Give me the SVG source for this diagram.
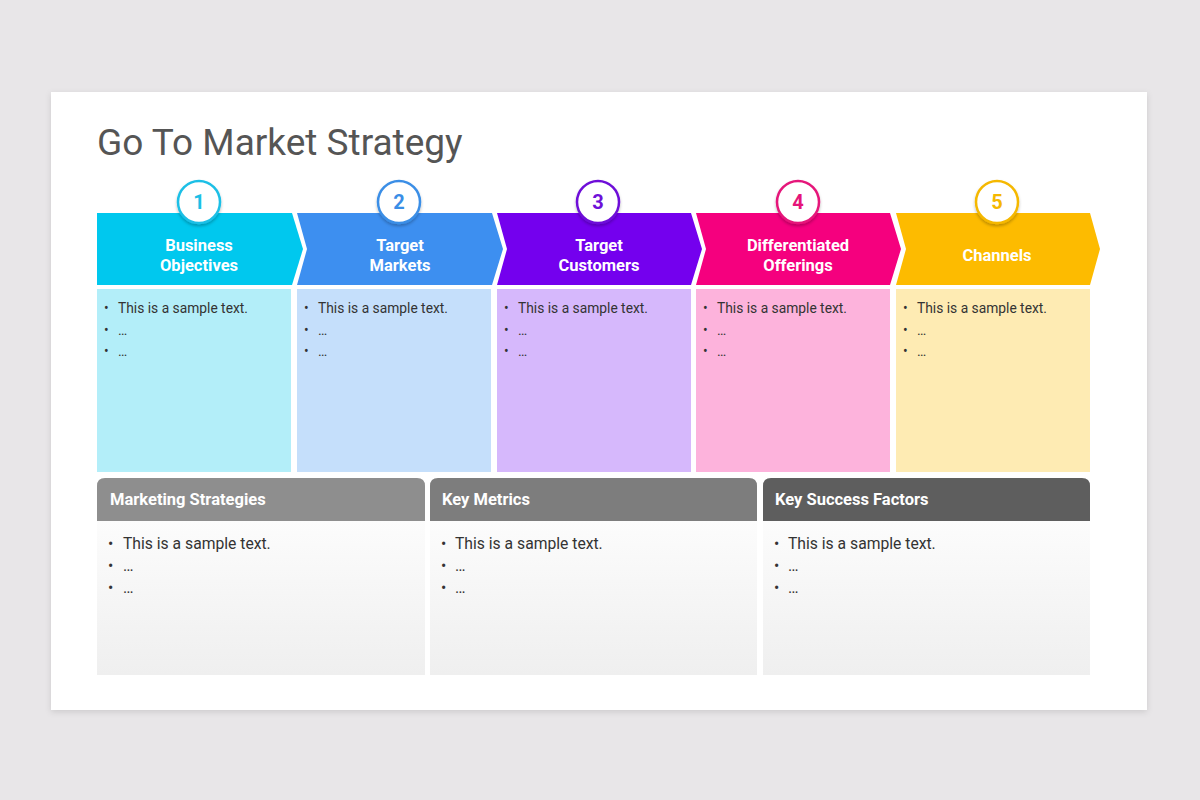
<svg xmlns="http://www.w3.org/2000/svg" width="1200" height="800" viewBox="0 0 1200 800">
<defs>
<style>
.title{font-family:Roboto,"Liberation Sans",sans-serif;font-size:37px;fill:#555555}
.chev{font-family:Roboto,"Liberation Sans",sans-serif;font-size:16.5px;font-weight:bold;fill:#ffffff;text-anchor:middle}
.num{font-family:Roboto,"Liberation Sans",sans-serif;font-size:20px;font-weight:bold;text-anchor:middle}
.bt{font-family:Roboto,"Liberation Sans",sans-serif;font-size:13.8px;fill:#333333}
.bb{font-family:Roboto,"Liberation Sans",sans-serif;font-size:15.7px;fill:#333333}
.hd{font-family:Roboto,"Liberation Sans",sans-serif;font-size:16.5px;font-weight:bold;fill:#ffffff}
.circ{fill:#ffffff;stroke-width:2.5}
</style>
<filter id="sh" x="-5%" y="-5%" width="110%" height="115%">
<feDropShadow dx="0" dy="2" stdDeviation="3" flood-color="#000" flood-opacity="0.12"/>
</filter>
<filter id="csh" x="-50%" y="-50%" width="200%" height="200%">
<feDropShadow dx="0" dy="2" stdDeviation="1.5" flood-color="#000" flood-opacity="0.25"/>
</filter>
<linearGradient id="pg" x1="0" y1="0" x2="0" y2="1">
<stop offset="0" stop-color="#fcfcfc"/>
<stop offset="1" stop-color="#efefef"/>
</linearGradient>
</defs>
<rect x="0" y="0" width="1200" height="800" fill="#e8e6e8"/>
<rect x="51" y="92" width="1096" height="618" fill="#ffffff" filter="url(#sh)"/>
<text class="title" x="97" y="155">Go To Market Strategy</text>

<g id="step1">
<polygon points="97,213 292,213 303,249 292,285 97,285" fill="#00c8ee"/>
<rect x="97" y="289" width="194" height="183" fill="#b3eef9"/>
<circle class="circ" cx="199" cy="202" r="21" stroke="#1bbfe6" filter="url(#csh)"/>
<text class="num" x="199" y="209" fill="#1bbfe6">1</text>
<text class="chev" x="199" y="251">Business</text>
<text class="chev" x="199" y="271">Objectives</text>
<text class="bt" x="104" y="313">•</text><text class="bt" x="118" y="313">This is a sample text.</text>
<text class="bt" x="104" y="335">•</text><text class="bt" x="118" y="335" font-size="9">…</text>
<text class="bt" x="104" y="356">•</text><text class="bt" x="118" y="356" font-size="9">…</text>
</g>

<g id="step2">
<polygon points="297,213 492,213 503,249 492,285 297,285 307,249" fill="#3d8ff0"/>
<rect x="297" y="289" width="194" height="183" fill="#c5dffb"/>
<circle class="circ" cx="399" cy="202" r="21" stroke="#3a8ee6" filter="url(#csh)"/>
<text class="num" x="399" y="209" fill="#3a8ee6">2</text>
<text class="chev" x="400" y="251">Target</text>
<text class="chev" x="400" y="271">Markets</text>
<text class="bt" x="304" y="313">•</text><text class="bt" x="318" y="313">This is a sample text.</text>
<text class="bt" x="304" y="335">•</text><text class="bt" x="318" y="335" font-size="9">…</text>
<text class="bt" x="304" y="356">•</text><text class="bt" x="318" y="356" font-size="9">…</text>
</g>

<g id="step3">
<polygon points="497,213 691,213 702,249 691,285 497,285 507,249" fill="#7400ee"/>
<rect x="497" y="289" width="194" height="183" fill="#d6b8fc"/>
<circle class="circ" cx="598" cy="202" r="21" stroke="#6e10d8" filter="url(#csh)"/>
<text class="num" x="598" y="209" fill="#6e10d8">3</text>
<text class="chev" x="599" y="251">Target</text>
<text class="chev" x="599" y="271">Customers</text>
<text class="bt" x="504" y="313">•</text><text class="bt" x="518" y="313">This is a sample text.</text>
<text class="bt" x="504" y="335">•</text><text class="bt" x="518" y="335" font-size="9">…</text>
<text class="bt" x="504" y="356">•</text><text class="bt" x="518" y="356" font-size="9">…</text>
</g>

<g id="step4">
<polygon points="696,213 890,213 901,249 890,285 696,285 706,249" fill="#f5007e"/>
<rect x="696" y="289" width="194" height="183" fill="#fdb3dc"/>
<circle class="circ" cx="798" cy="202" r="21" stroke="#e5157a" filter="url(#csh)"/>
<text class="num" x="798" y="209" fill="#e5157a">4</text>
<text class="chev" x="798" y="251">Differentiated</text>
<text class="chev" x="798" y="271">Offerings</text>
<text class="bt" x="703" y="313">•</text><text class="bt" x="717" y="313">This is a sample text.</text>
<text class="bt" x="703" y="335">•</text><text class="bt" x="717" y="335" font-size="9">…</text>
<text class="bt" x="703" y="356">•</text><text class="bt" x="717" y="356" font-size="9">…</text>
</g>

<g id="step5">
<polygon points="896,213 1090,213 1100,249 1090,285 896,285 906,249" fill="#fdbb00"/>
<rect x="896" y="289" width="194" height="183" fill="#feebb3"/>
<circle class="circ" cx="997" cy="202" r="21" stroke="#f5b800" filter="url(#csh)"/>
<text class="num" x="997" y="209" fill="#f5b800">5</text>
<text class="chev" x="997" y="261">Channels</text>
<text class="bt" x="903" y="313">•</text><text class="bt" x="917" y="313">This is a sample text.</text>
<text class="bt" x="903" y="335">•</text><text class="bt" x="917" y="335" font-size="9">…</text>
<text class="bt" x="903" y="356">•</text><text class="bt" x="917" y="356" font-size="9">…</text>
</g>

<g id="panel1">
<path d="M97,521 V486 Q97,478 105,478 H417 Q425,478 425,486 V521 Z" fill="#8e8e8e"/>
<rect x="97" y="521" width="328" height="154" fill="url(#pg)"/>
<text class="hd" x="110" y="505">Marketing Strategies</text>
<text class="bb" x="108" y="549">•</text><text class="bb" x="123" y="549">This is a sample text.</text>
<text class="bb" x="108" y="571">•</text><text class="bb" x="123" y="571" font-size="10">…</text>
<text class="bb" x="108" y="593">•</text><text class="bb" x="123" y="593" font-size="10">…</text>
</g>

<g id="panel2">
<path d="M430,521 V486 Q430,478 438,478 H749 Q757,478 757,486 V521 Z" fill="#7d7d7d"/>
<rect x="430" y="521" width="327" height="154" fill="url(#pg)"/>
<text class="hd" x="442" y="505">Key Metrics</text>
<text class="bb" x="441" y="549">•</text><text class="bb" x="455" y="549">This is a sample text.</text>
<text class="bb" x="441" y="571">•</text><text class="bb" x="455" y="571" font-size="10">…</text>
<text class="bb" x="441" y="593">•</text><text class="bb" x="455" y="593" font-size="10">…</text>
</g>

<g id="panel3">
<path d="M763,521 V486 Q763,478 771,478 H1082 Q1090,478 1090,486 V521 Z" fill="#5e5e5e"/>
<rect x="763" y="521" width="327" height="154" fill="url(#pg)"/>
<text class="hd" x="775" y="505">Key Success Factors</text>
<text class="bb" x="774" y="549">•</text><text class="bb" x="788" y="549">This is a sample text.</text>
<text class="bb" x="774" y="571">•</text><text class="bb" x="788" y="571" font-size="10">…</text>
<text class="bb" x="774" y="593">•</text><text class="bb" x="788" y="593" font-size="10">…</text>
</g>

<g id="connectors"></g>
</svg>
